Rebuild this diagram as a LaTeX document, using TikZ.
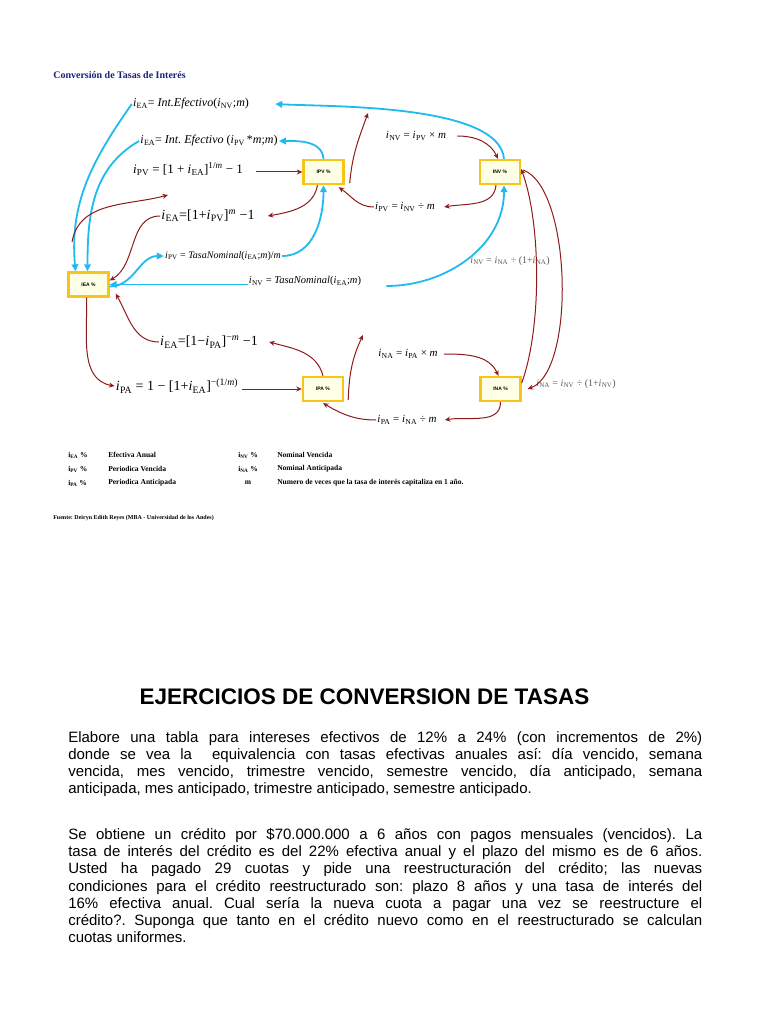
\documentclass[tikz,border=0pt]{standalone}
\usepackage{fontspec}
\setmainfont{Liberation Serif}
\newfontfamily\arialfont{Liberation Sans}
\usepackage{xcolor}
\definecolor{navy}{HTML}{1B1F7A}
\definecolor{sky}{HTML}{1FBAF0}
\definecolor{wine}{HTML}{8E1B1B}
\definecolor{gold}{HTML}{F8C41A}
\definecolor{cream}{HTML}{FFFFE6}
\usepackage{tikz}
\usetikzlibrary{arrows.meta,positioning,calc}
\frenchspacing
\tikzset{
  every picture/.style={line width=0.6pt},
  tasa/.style={draw=gold, fill=cream, line width=2.4pt, minimum width=40pt, minimum height=24pt, inner sep=0pt, font=\fontsize{5}{6}\arialfont\bfseries},
  formula/.style={inner sep=1pt, font=\fontsize{#1}{#1}\selectfont},
  formula/.default=12,
  grayformula/.style={formula=#1, text=black!65},
  bluearrow/.style={-{Triangle[length=7pt,width=6.5pt]}, draw=sky, line width=1.8pt},
  redarrow/.style={-{Stealth[length=5.5pt,width=5pt]}, draw=wine, line width=1pt},
  legend/.style={anchor=west, inner sep=0pt, font=\fontsize{7.5}{8}\selectfont\bfseries},
  bodyline/.style={anchor=base west, inner sep=0pt, font=\fontsize{15}{17}\arialfont},
}
\newcommand{\iv}[1]{\textit{i}\kern0.3pt\textsubscript{#1}}
\newcommand{\just}[1]{\makebox[634pt][s]{#1}}

\begin{document}
\begin{tikzpicture}[x=1pt, y=1pt]
  \useasboundingbox[fill=white] (0,0) rectangle (768,-1024);
  \node[anchor=west, inner sep=0pt, text=navy, font=\fontsize{10}{12}\selectfont\bfseries] (titulo) at (53,-75) {Conversión de Tasas de Interés};

  \node[tasa] (iea) at (88.5,-284.5) {IEA \%};
  \node[tasa] (ipv) at (323.5,-172) {IPV \%};
  \node[tasa] (inv) at (500,-172) {INV \%};
  \node[tasa] (ipa) at (323,-389) {IPA \%};
  \node[tasa] (ina) at (500.5,-389) {INA \%};

  \node[formula] (f1) at (191,-104) {\iv{EA}= \textit{Int.Efectivo}(\iv{NV};\textit{m})};
  \node[formula] (f2) at (209,-141) {\iv{EA}= \textit{Int. Efectivo} (\iv{PV}\,*\textit{m};\textit{m})};
  \node[formula=13] (f3) at (188,-169) {\iv{PV} = [1 + \iv{EA}]\textsuperscript{1/\textit{m}} − 1};
  \node[formula=14] (f4) at (208,-216) {\iv{EA}=[1+\iv{PV}]\textsuperscript{\textit{m}} −1};
  \node[formula=10] (f5) at (223,-256) {\iv{PV} = \textit{TasaNominal}(\iv{EA};\textit{m})/\textit{m}};
  \node[formula=10.5] (f6) at (305,-281) {\iv{NV} = \textit{TasaNominal}(\iv{EA};\textit{m})};
  \node[formula=11] (f7) at (416,-136) {\iv{NV} = \iv{PV} × \textit{m}};
  \node[formula=11] (f8) at (405,-207) {\iv{PV} = \iv{NV} ÷ \textit{m}};
  \node[grayformula=10] (f9) at (510,-261) {\iv{NV} = \iv{NA} ÷ (1+\iv{NA})};
  \node[formula=14] (f10) at (209,-342) {\iv{EA}=[1−\iv{PA}]\textsuperscript{−\textit{m}} −1};
  \node[formula=14] (f11) at (177,-386) {\iv{PA} = 1 − [1+\iv{EA}]\textsuperscript{−(1/\textit{m})}};
  \node[formula=11] (f12) at (408,-354) {\iv{NA} = \iv{PA} × \textit{m}};
  \node[formula=11] (f13) at (407,-420) {\iv{PA} = \iv{NA} ÷ \textit{m}};
  \node[grayformula=10] (f14) at (576,-384) {\iv{NA} = \iv{NV} ÷ (1+\iv{NV})};

  \coordinate (ea out) at (72,-242);
  \coordinate (ea tip) at (168,-195);
  \coordinate (pv tip) at (368,-113);
  \coordinate (pa tip) at (363,-335);

  \draw[bluearrow] ([xshift=4pt]inv.north) to[out=95,in=-3,looseness=0.6] ([xshift=25pt]f1.east);
  \draw[bluearrow] (f1.west) to[out=235,in=95] ([xshift=-13pt]iea.north);
  \draw[bluearrow] (ipv.north) to[out=95,in=0] (f2.east);
  \draw[bluearrow] (f2.west) to[out=210,in=90] ([xshift=-1pt]iea.north);
  \draw[bluearrow] ([yshift=-2pt]iea.east) to[out=0,in=180] (f5.west);
  \draw[bluearrow] (f5.east) to[out=0,in=-90] (ipv.south);
  \draw[bluearrow] (f6.west |- iea.east) -- (iea.east);
  \draw[bluearrow] ([xshift=24pt,yshift=-5pt]f6.east) to[out=0,in=-90] ([xshift=4pt]inv.south);

  \draw[redarrow, shorten <=12pt] (f3.east |- ipv.west) -- (ipv.west);
  \draw[redarrow] (ea out) to[out=80,in=195] (ea tip);
  \draw[redarrow] ([xshift=-6pt]ipv.south) to[out=-100,in=10] ([xshift=12pt]f4.east);
  \draw[redarrow] (f4.west) to[out=180,in=30] ([yshift=4pt]iea.east);
  \draw[redarrow] ([xshift=5pt,yshift=2pt]ipv.south east) to[out=85,in=250] (pv tip);
  \draw[redarrow] ([xshift=10pt]f7.east) to[out=0,in=115] ([xshift=-2pt]inv.north);
  \draw[redarrow] ([xshift=-4pt]inv.south) to[out=-95,in=10] ([xshift=8pt]f8.east);
  \draw[redarrow] (f8.west) to[out=180,in=-35] ([xshift=-6pt,yshift=-2pt]ipv.south east);
  \draw[redarrow] ([xshift=-2pt]iea.south) to[out=-88,in=170] (f11.west);
  \draw[redarrow] (f10.west) to[out=180,in=-60] ([xshift=6pt,yshift=4pt]iea.south east);
  \draw[redarrow] (ipa.north) to[out=105,in=-15] ([xshift=10pt]f10.east);
  \draw[redarrow, shorten <=3pt] (f11.east |- ipa.west) -- (ipa.west);
  \draw[redarrow] ([xshift=4pt,yshift=2pt]ipa.south east) to[out=88,in=245] (pa tip);
  \draw[redarrow] ([xshift=5pt]f12.east) to[out=0,in=115] ([xshift=-2pt]ina.north);
  \draw[redarrow] (ina.south) to[out=-90,in=10] ([xshift=7pt]f13.east);
  \draw[redarrow] (f13.west) to[out=180,in=-30] ([yshift=-1pt]ipa.south);
  \draw[redarrow] ([yshift=6pt]ina.east) to[out=70,in=-70,looseness=0.7] ([yshift=3pt]inv.east);
  \draw[redarrow] ([xshift=2pt,yshift=2pt]inv.east) to[out=-20,in=20,looseness=0.6] ([xshift=6pt]ina.east);

  \node[legend] (sea) at (68,-455) {\textbf{i}\textsubscript{EA} \%};
  \node[legend] (spv) at (68,-469) {\textbf{i}\textsubscript{PV} \%};
  \node[legend] (spa) at (68,-483) {\textbf{i}\textsubscript{PA} \%};
  \node[legend] (dea) at (108,-455) {Efectiva Anual};
  \node[legend] (dpv) at (108,-469) {Periodica Vencida};
  \node[legend] (dpa) at (108,-483) {Periodica Anticipada};
  \node[legend] (snv) at (238,-455) {\textbf{i}\textsubscript{NV} \%};
  \node[legend] (sna) at (238,-469) {\textbf{i}\textsubscript{NA} \%};
  \node[legend, anchor=center] (sm) at (248,-483) {m};
  \node[legend] (dnv) at (277,-455) {Nominal Vencida};
  \node[legend] (dna) at (277,-469) {Nominal Anticipada};
  \node[legend] (dm) at (277,-483) {Numero de veces que la tasa de interés capitaliza en 1 año.};
  \node[legend, font=\fontsize{6}{7}\selectfont\bfseries] (fuente) at (53,-518) {Fuente: Deiryn Edith Reyes (MBA - Universidad de los Andes)};

  \node[inner sep=0pt, font=\fontsize{22.5}{26}\arialfont\bfseries] (ejercicios) at (364.5,-697) {EJERCICIOS DE CONVERSION DE TASAS};
  \node[bodyline] (a1) at (68,-742) {\just{Elabore una tabla para intereses efectivos de 12\% a 24\% (con incrementos de 2\%)}};
  \node[bodyline] (a2) at (68,-759) {\just{donde se vea la \ equivalencia con tasas efectivas anuales así: día vencido, semana}};
  \node[bodyline] (a3) at (68,-776) {\just{vencida, mes vencido, trimestre vencido, semestre vencido, día anticipado, semana}};
  \node[bodyline] (a4) at (68,-793) {anticipada, mes anticipado, trimestre anticipado, semestre anticipado.};
  \node[bodyline] (b1) at (68,-839) {\just{Se obtiene un crédito por \$70.000.000 a 6 años con pagos mensuales (vencidos). La}};
  \node[bodyline] (b2) at (68,-856) {\just{tasa de interés del crédito es del 22\% efectiva anual y el plazo del mismo es de 6 años.}};
  \node[bodyline] (b3) at (68,-873) {\just{Usted ha pagado 29 cuotas y pide una reestructuración del crédito; las nuevas}};
  \node[bodyline] (b4) at (68,-891) {\just{condiciones para el crédito reestructurado son: plazo 8 años y una tasa de interés del}};
  \node[bodyline] (b5) at (68,-908) {\just{16\% efectiva anual. Cual sería la nueva cuota a pagar una vez se reestructure el}};
  \node[bodyline] (b6) at (68,-925) {\just{crédito?. Suponga que tanto en el crédito nuevo como en el reestructurado se calculan}};
  \node[bodyline] (b7) at (68,-942) {cuotas uniformes.};
\end{tikzpicture}
\end{document}
